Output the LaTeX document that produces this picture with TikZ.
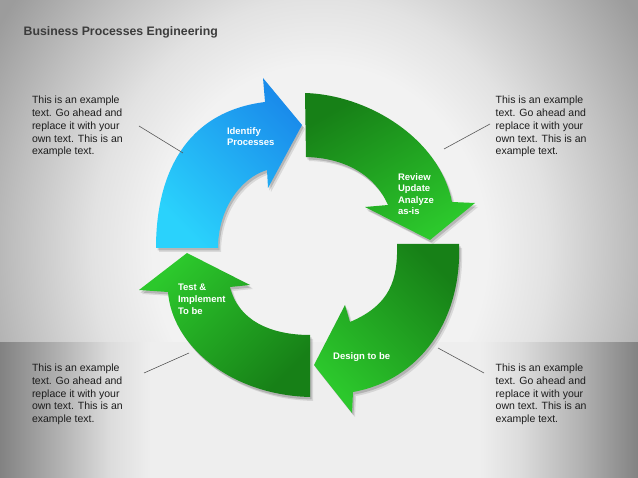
\documentclass[tikz,border=0pt]{standalone}
\usepackage{fontspec}
\setmainfont{Liberation Sans}
\definecolor{bgL}{HTML}{F2F2F2}
\definecolor{bgM1}{HTML}{E2E2E2}
\definecolor{bgM2}{HTML}{C0C0C0}
\definecolor{bgD}{HTML}{9C9C9C}
\definecolor{bgB0}{HTML}{828282}
\definecolor{bgB1}{HTML}{B2B2B2}
\definecolor{bgB2}{HTML}{DCDCDC}
\definecolor{bgB3}{HTML}{EEEEEE}
\definecolor{txt}{HTML}{1C1C1C}
\definecolor{titlegray}{HTML}{3C3C3C}
\definecolor{leadergray}{HTML}{5A5A5A}
\definecolor{blueL}{HTML}{2AD2FC}
\definecolor{blueD}{HTML}{1A8CEB}
\definecolor{greenD}{HTML}{178017}
\definecolor{greenL}{HTML}{2CC82C}
\pgfdeclareradialshading{bgtopshade}{\pgfpoint{0bp}{0bp}}{color(0bp)=(bgL); color(11bp)=(bgL); color(15bp)=(bgM1); color(20bp)=(bgM2); color(25bp)=(bgD); color(50bp)=(bgD)}
\pgfdeclarehorizontalshading{bgbottomshade}{100bp}{color(0bp)=(bgB0); color(25bp)=(bgB0); color(29.7bp)=(bgB1); color(33.6bp)=(bgB2); color(36.8bp)=(bgB3); color(62.6bp)=(bgB3); color(65.8bp)=(bgB2); color(70.5bp)=(bgB1); color(75bp)=(bgB0); color(100bp)=(bgB0)}
\def\pathBlue{(156,248) .. controls (156,175) and (185,112) .. (265,102) -- (263,78) -- (302,125) -- (268,188) -- (267,170) .. controls (240,178) and (218,210) .. (218,248) -- cycle}
\def\pathGreenA{(305,93) .. controls (370,95) and (440,140) .. (452,202) -- (475,203) -- (430,240) -- (365,207) -- (388,205) .. controls (375,175) and (345,158) .. (306,157) -- cycle}
\def\pathGreenB{(397,244) -- (459,244) .. controls (462,320) and (420,380) .. (353,392) -- (352,413) -- (314,365) -- (345,305) -- (350,322) .. controls (390,305) and (398,280) .. (397,244) -- cycle}
\def\pathGreenC{(310,335) -- (310,397) .. controls (230,395) and (172,345) .. (168,292) -- (139,290) -- (187,253) -- (250,285) -- (230,287) .. controls (238,320) and (270,335) .. (310,335) -- cycle}
\begin{document}
\begin{tikzpicture}[x=1pt,y=-1pt,
  bodytext/.style={anchor=north west, inner sep=0pt, outer sep=0pt, align=left, text=txt, font=\fontsize{10.5}{12.75}\selectfont},
  steplabel/.style={anchor=north west, inner sep=0pt, outer sep=0pt, align=left, text=white, font=\bfseries\fontsize{9.5}{11.6}\selectfont},
  leader/.style={draw=leadergray, line width=0.6pt},
  shadowA/.style={fill=black, opacity=0.10, shift={(3,4)}},
  shadowB/.style={fill=black, opacity=0.16, shift={(1.5,2.5)}},
]
\useasboundingbox (0,0) rectangle (638,478);
% background
\fill[bgL] (0,0) rectangle (638,478);
\begin{scope}
  \clip (0,0) rectangle (638,343);
  \shade[shading=bgtopshade] (-60,-170) rectangle (700,670);
\end{scope}
\shade[shading=bgbottomshade] (0,343) rectangle (638,478);
% title
\node[anchor=base west, inner sep=0pt, text=titlegray, font=\bfseries\fontsize{12.3}{14}\selectfont] (title) at (23.5,35.5) {Business Processes Engineering};
% shadows
\fill[shadowA] \pathBlue;
\fill[shadowA] \pathGreenA;
\fill[shadowA] \pathGreenB;
\fill[shadowA] \pathGreenC;
\fill[shadowB] \pathBlue;
\fill[shadowB] \pathGreenA;
\fill[shadowB] \pathGreenB;
\fill[shadowB] \pathGreenC;
% arrows
\shade[top color=blueD, bottom color=blueL, shading angle=-45] \pathBlue;
\shade[top color=greenD, bottom color=greenL, shading angle=30] \pathGreenA;
\shade[top color=greenD, bottom color=greenL, shading angle=-45] \pathGreenB;
\shade[top color=greenL, bottom color=greenD, shading angle=45] \pathGreenC;
% arrow labels
\node[steplabel] (identify) at (227,127.3) {Identify\\Processes};
\node[steplabel] (review) at (398,173.3) {Review\\Update\\Analyze\\as-is};
\node[steplabel] (test) at (178,284.3) {Test \&\\Implement\\To be};
\node[anchor=base west, inner sep=0pt, text=white, font=\bfseries\fontsize{9.5}{11.6}\selectfont] (design) at (333,359.6) {Design to be};
% side texts
\node[bodytext] (tl) at (32,96.3) {This is an example\\text. Go ahead and\\replace it with your\\own text. This is an\\example text.};
\node[bodytext] (tr) at (495.7,96.3) {This is an example\\text. Go ahead and\\replace it with your\\own text. This is an\\example text.};
\node[bodytext] (bl) at (32,364) {This is an example\\text. Go ahead and\\replace it with your\\own text. This is an\\example text.};
\node[bodytext] (br) at (495.7,364) {This is an example\\text. Go ahead and\\replace it with your\\own text. This is an\\example text.};
% leader lines
\coordinate (tlA) at (139,126);
\coordinate (tlB) at (183,153);
\coordinate (trA) at (490,124);
\coordinate (trB) at (444,149);
\coordinate (blA) at (144,373);
\coordinate (blB) at (189,353);
\coordinate (brA) at (484,373);
\coordinate (brB) at (438,348);
\draw[leader] (tlA) -- (tlB);
\draw[leader] (trA) -- (trB);
\draw[leader] (blA) -- (blB);
\draw[leader] (brA) -- (brB);
\end{tikzpicture}
\end{document}
